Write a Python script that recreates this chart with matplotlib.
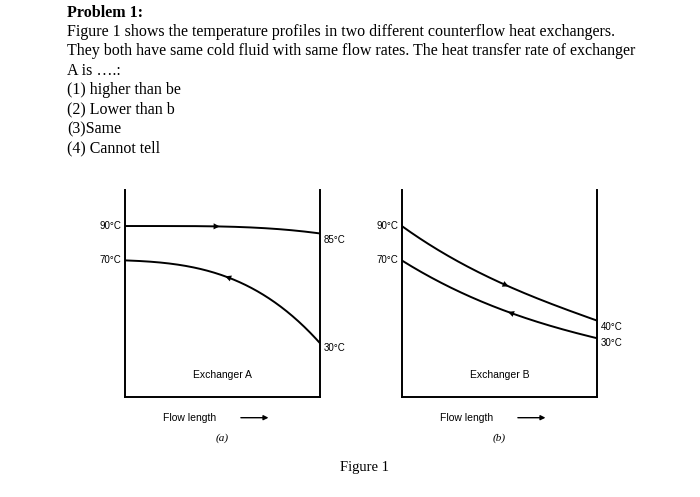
import numpy as np
import matplotlib
matplotlib.use("Agg")
import matplotlib.pyplot as plt

# profile heights (0 = bottom of box, 100 = top of box)
flow = [0, 0.2, 0.4, 0.6, 0.8, 1.0]
a_hot = [82.6, 82.6, 82.5, 82.1, 81.0, 79.0]
a_cold = [66.0, 64.8, 61.5, 55.0, 43.5, 26.0]
b_hot = [82.6, 70.0, 60.0, 51.5, 43.5, 37.0]
b_cold = [66.0, 55.0, 46.5, 39.5, 33.0, 28.5]

question = ["Figure 1 shows the temperature profiles in two different counterflow heat exchangers.",
            "They both have same cold fluid with same flow rates. The heat transfer rate of exchanger",
            "A is ….:",
            "(1) higher than be",
            "(2) Lower than b",
            "(3)Same",
            "(4) Cannot tell"]

W, H = 700, 497
fig = plt.figure(figsize=(7, 4.97), dpi=100)
serif = "Liberation Serif"

fig.text(67 / W, 1 - 13 / H, "Problem 1:", family=serif, weight="bold", fontsize=11.5, va="center")
for i, line in enumerate(question):
    fig.text(67 / W, 1 - (32 + 19.4 * i) / H, line, family=serif, fontsize=11.5, va="center")


def smooth(ys):
    # smooth curve through the read points
    c = np.polyfit(flow, ys, 3)
    xs = np.linspace(0, 1, 200)
    return xs, np.polyval(c, xs), c


def panel(x0, hot, cold, hot_labels, cold_labels, name, tag, arrows):
    ax = fig.add_axes([x0 / W, 100 / H, 195 / W, 207 / H])
    ax.set_xlim(0, 1)
    ax.set_ylim(0, 100)
    for s in ["left", "right", "bottom"]:
        ax.spines[s].set_linewidth(1.4)
    ax.spines["top"].set_visible(False)
    ax.set_xticks([])
    ax.set_yticks([])
    ax.patch.set_alpha(0)
    for ys, (xa, direction) in zip([hot, cold], arrows):
        xs, yi, c = smooth(ys)
        ax.plot(xs, yi, color="k", lw=1.4)
        xb = xa + 0.03 * direction
        ax.annotate("", xy=(xb, np.polyval(c, xb)), xytext=(xa, np.polyval(c, xa)),
                    arrowprops=dict(arrowstyle="-|>", color="k", lw=0, mutation_scale=11))
    kw = dict(fontsize=7, family="Liberation Sans")
    ax.text(-0.02, hot[0], hot_labels[0], ha="right", va="center", **kw)
    ax.text(-0.02, cold[0], cold_labels[0], ha="right", va="center", **kw)
    ax.text(1.02, hot[-1] - 3, hot_labels[1], ha="left", va="center", **kw)
    ax.text(1.02, cold[-1] - 2.5, cold_labels[1], ha="left", va="center", **kw)
    ax.text(0.5, 10.6, name, ha="center", va="center", fontsize=7.5, family="Liberation Sans")
    ax.text(0.33, -10, "Flow length", ha="center", va="center", fontsize=7.5, family="Liberation Sans")
    ax.annotate("", xy=(0.75, -10), xytext=(0.58, -10),
                arrowprops=dict(arrowstyle="-|>", color="k", lw=1, mutation_scale=7),
                annotation_clip=False)
    ax.text(0.5, -20, tag, ha="center", va="center", fontsize=8, family=serif, style="italic")
    return ax


panel(125, a_hot, a_cold, ["90°C", "85°C"], ["70°C", "30°C"], "Exchanger A", "(a)",
      [(0.47, 1), (0.53, -1)])
panel(402, b_hot, b_cold, ["90°C", "40°C"], ["70°C", "30°C"], "Exchanger B", "(b)",
      [(0.53, 1), (0.56, -1)])

fig.text(365 / W, 1 - 467 / H, "Figure 1", family=serif, fontsize=10.5, ha="center", va="center")

fig.savefig("out.png", dpi=100)
